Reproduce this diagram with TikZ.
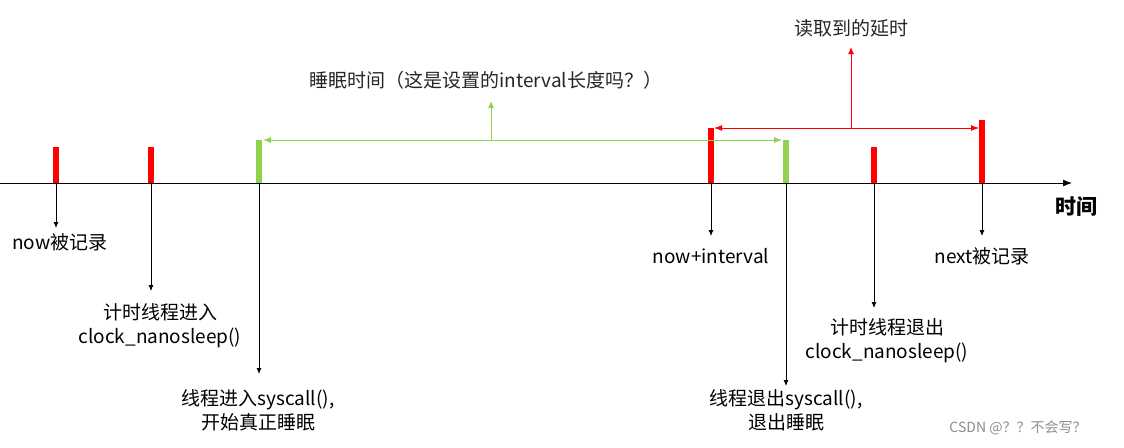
\documentclass[tikz,border=0pt]{standalone}
\usepackage{fontspec}
\setmainfont{Noto Sans CJK SC}
\usetikzlibrary{arrows.meta}
\definecolor{gr}{RGB}{146,208,80}
\begin{document}
\begin{tikzpicture}[x=1pt,y=-1pt,
  bar/.style={line width=6pt},
  lab/.style={font=\fontsize{19}{24}\selectfont,inner sep=0pt,align=center},
  drop/.style={-{Latex[length=6pt,width=5pt]},line width=0.8pt},
  tip/.style={-{Latex[length=7pt,width=6pt]}}]
\useasboundingbox (0,0) rectangle (1124,447);
\coordinate (a0) at (0,183); \coordinate (a1) at (1072,183);
\draw[line width=1pt,-{Latex[length=9pt,width=7pt]}] (a0) -- (a1);
\foreach \n/\x/\t/\c in {r1/56/147/red,r2/151/147/red,g1/259/140/gr,r3/711/128/red,g2/786/140/gr,r4/874/147/red,r5/982/120/red}{
  \coordinate (\n t) at (\x,\t); \coordinate (\n b) at (\x,183);
  \draw[bar,\c] (\n b) -- (\n t);}
% green interval
\coordinate (gl) at (263,140); \coordinate (gr2) at (782,140); \coordinate (gm) at (491,140);
\draw[gr,line width=1pt,{Latex[length=8pt,width=6pt]}-{Latex[length=8pt,width=6pt]}] (gl) -- (gr2);
\node[lab,text=black!85] (gtext) at (486,80) {睡眠时间（这是设置的interval长度吗？）};
\draw[gr,line width=1pt,tip] (gm) -- (491,101);
% red interval
\coordinate (rl) at (714,128); \coordinate (rr) at (979,128); \coordinate (rm) at (851,128);
\draw[red,line width=1pt,{Latex[length=8pt,width=6pt]}-{Latex[length=8pt,width=6pt]}] (rl) -- (rr);
\node[lab,text=black!85] (rtext) at (851,28) {读取到的延时};
\draw[red,line width=1pt,tip] (rm) -- (851,47);
% labels
\node[lab] (t1) at (60,242) {now被记录};
\node[lab] (t2) at (160,326) {计时线程进入\\clock\_nanosleep()};
\node[lab] (t3) at (258,410) {线程进入syscall(),\\开始真正睡眠};
\node[lab] (t4) at (711,256) {now+interval};
\node[lab] (t5) at (786,410) {线程退出syscall(),\\退出睡眠};
\node[lab] (t6) at (887,341) {计时线程退出\\clock\_nanosleep()};
\node[lab] (t7) at (982,256) {next被记录};
\node[lab,font=\fontsize{21}{24}\selectfont\bfseries] (time) at (1076,207) {时间};
\node[lab,font=\fontsize{14}{16}\selectfont,text=black!45] (wm) at (1018,428) {CSDN @？？不会写？};
\draw[drop] (r1b) -- (56,228);
\draw[drop] (r2b) -- (151,291);
\draw[drop] (g1b) -- (259,374);
\draw[drop] (r3b) -- (711,236);
\draw[drop] (g2b) -- (786,386);
\draw[drop] (r4b) -- (874,308);
\draw[drop] (r5b) -- (982,236);
\end{tikzpicture}
\end{document}
